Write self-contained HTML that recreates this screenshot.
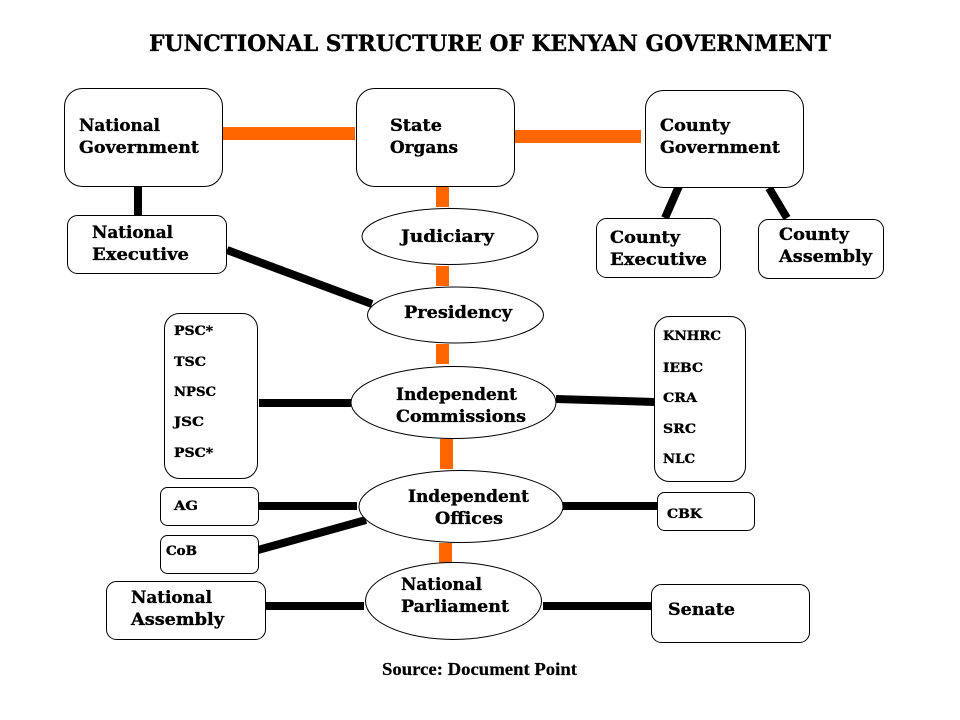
<!DOCTYPE html>
<html><head><meta charset="utf-8"><style>
html,body{margin:0;padding:0;background:#fff}
svg{display:block}
text{font-family:"DejaVu Serif","Liberation Serif",serif;font-weight:bold;fill:#000;stroke:#000;stroke-width:.35px}
.n{font-size:17px}.s{font-size:13px}
rect,ellipse{fill:#fff;stroke:#000;stroke-width:1}
.o{fill:#ff6600;stroke:none}
line{stroke:#000;stroke-width:8}
</style></head><body>
<svg width="960" height="720" viewBox="0 0 960 720" xmlns="http://www.w3.org/2000/svg">
<rect x="0" y="0" width="960" height="720" style="fill:#fff;stroke:none"/>
<text x="149" y="51" style="font-size:22px" textLength="682" lengthAdjust="spacingAndGlyphs">FUNCTIONAL STRUCTURE OF KENYAN GOVERNMENT</text>

<rect class="o" x="222" y="127" width="133" height="13"/>
<rect class="o" x="514" y="130" width="127" height="13"/>
<rect class="o" x="436" y="187" width="13" height="20"/>
<rect class="o" x="436" y="266" width="13" height="20"/>
<rect class="o" x="436" y="344" width="13" height="20"/>
<rect class="o" x="440" y="439" width="13" height="30"/>
<rect class="o" x="439" y="543" width="13" height="22"/>

<line x1="138" y1="187" x2="138" y2="215"/>
<line x1="679" y1="186" x2="665" y2="218"/>
<line x1="769" y1="188" x2="787" y2="218"/>
<line x1="227" y1="250" x2="372" y2="304"/>
<line x1="259" y1="403" x2="351" y2="403"/>
<line x1="556" y1="399" x2="655" y2="402"/>
<line x1="258" y1="506" x2="357" y2="506"/>
<line x1="258" y1="550" x2="366" y2="520"/>
<line x1="561" y1="506" x2="657" y2="506"/>
<line x1="266" y1="606" x2="364" y2="606"/>
<line x1="543" y1="606" x2="652" y2="606"/>

<rect x="64.500" y="88.500" width="158" height="98" rx="18"/>
<rect x="356.500" y="88.500" width="158" height="98" rx="18"/>
<rect x="645.500" y="90.500" width="158" height="97" rx="18"/>
<rect x="67.500" y="215.500" width="159" height="58" rx="10"/>
<rect x="596.500" y="218.500" width="124" height="59" rx="10"/>
<rect x="758.500" y="219.500" width="125" height="59" rx="10"/>
<rect x="164.500" y="313.500" width="93" height="165" rx="15"/>
<rect x="654.500" y="316.500" width="91" height="165" rx="15"/>
<rect x="160.500" y="487.500" width="98" height="38" rx="7"/>
<rect x="160.500" y="535.500" width="98" height="38" rx="7"/>
<rect x="657.500" y="492.500" width="97" height="38" rx="7"/>
<rect x="106.500" y="581.500" width="159" height="58" rx="10"/>
<rect x="651.500" y="584.500" width="158" height="58" rx="10"/>

<ellipse cx="450" cy="236.500" rx="88" ry="28"/>
<ellipse cx="455.500" cy="315" rx="88" ry="28"/>
<ellipse cx="453.500" cy="402.500" rx="102.500" ry="36"/>
<ellipse cx="461" cy="506.500" rx="102" ry="36"/>
<ellipse cx="453.500" cy="601" rx="88" ry="38.500"/>

<text class="n" x="79" y="131" textLength="81" lengthAdjust="spacingAndGlyphs">National</text>
<text class="n" x="79" y="153" textLength="120" lengthAdjust="spacingAndGlyphs">Government</text>
<text class="n" x="390" y="131" textLength="52" lengthAdjust="spacingAndGlyphs">State</text>
<text class="n" x="390" y="153" textLength="68" lengthAdjust="spacingAndGlyphs">Organs</text>
<text class="n" x="660" y="131" textLength="70" lengthAdjust="spacingAndGlyphs">County</text>
<text class="n" x="660" y="153" textLength="120" lengthAdjust="spacingAndGlyphs">Government</text>
<text class="n" x="92" y="238" textLength="81" lengthAdjust="spacingAndGlyphs">National</text>
<text class="n" x="92" y="260" textLength="97" lengthAdjust="spacingAndGlyphs">Executive</text>
<text class="n" x="401" y="242" textLength="93" lengthAdjust="spacingAndGlyphs">Judiciary</text>
<text class="n" x="610" y="243" textLength="70" lengthAdjust="spacingAndGlyphs">County</text>
<text class="n" x="610" y="265" textLength="97" lengthAdjust="spacingAndGlyphs">Executive</text>
<text class="n" x="779" y="240" textLength="70" lengthAdjust="spacingAndGlyphs">County</text>
<text class="n" x="779" y="262" textLength="93" lengthAdjust="spacingAndGlyphs">Assembly</text>
<text class="n" x="404" y="318" textLength="108" lengthAdjust="spacingAndGlyphs">Presidency</text>
<text class="n" x="396" y="400" textLength="121" lengthAdjust="spacingAndGlyphs">Independent</text>
<text class="n" x="396" y="422" textLength="130" lengthAdjust="spacingAndGlyphs">Commissions</text>
<text class="n" x="408" y="502" textLength="121" lengthAdjust="spacingAndGlyphs">Independent</text>
<text class="n" x="435" y="524" textLength="68" lengthAdjust="spacingAndGlyphs">Offices</text>
<text class="n" x="401" y="590" textLength="81" lengthAdjust="spacingAndGlyphs">National</text>
<text class="n" x="401" y="612" textLength="108" lengthAdjust="spacingAndGlyphs">Parliament</text>
<text class="n" x="131" y="603" textLength="81" lengthAdjust="spacingAndGlyphs">National</text>
<text class="n" x="131" y="625" textLength="93" lengthAdjust="spacingAndGlyphs">Assembly</text>
<text class="n" x="668" y="615" textLength="67" lengthAdjust="spacingAndGlyphs">Senate</text>

<text class="s" x="174" y="335" textLength="39" lengthAdjust="spacingAndGlyphs">PSC*</text>
<text class="s" x="174" y="366" textLength="32" lengthAdjust="spacingAndGlyphs">TSC</text>
<text class="s" x="174" y="396" textLength="42" lengthAdjust="spacingAndGlyphs">NPSC</text>
<text class="s" x="174" y="426" textLength="30" lengthAdjust="spacingAndGlyphs">JSC</text>
<text class="s" x="174" y="457" textLength="39" lengthAdjust="spacingAndGlyphs">PSC*</text>
<text class="s" x="663" y="340" textLength="58" lengthAdjust="spacingAndGlyphs">KNHRC</text>
<text class="s" x="663" y="372" textLength="40" lengthAdjust="spacingAndGlyphs">IEBC</text>
<text class="s" x="663" y="402" textLength="34" lengthAdjust="spacingAndGlyphs">CRA</text>
<text class="s" x="663" y="433" textLength="33" lengthAdjust="spacingAndGlyphs">SRC</text>
<text class="s" x="663" y="463" textLength="32" lengthAdjust="spacingAndGlyphs">NLC</text>
<text class="s" x="174" y="510" textLength="24" lengthAdjust="spacingAndGlyphs">AG</text>
<text class="s" x="166" y="555" textLength="31" lengthAdjust="spacingAndGlyphs">CoB</text>
<text class="s" x="667" y="518" textLength="35" lengthAdjust="spacingAndGlyphs">CBK</text>

<text x="382" y="675" style="font-family:'Liberation Serif',serif;font-size:18px;stroke-width:.2px" textLength="195" lengthAdjust="spacingAndGlyphs">Source: Document Point</text>
</svg>
</body></html>
